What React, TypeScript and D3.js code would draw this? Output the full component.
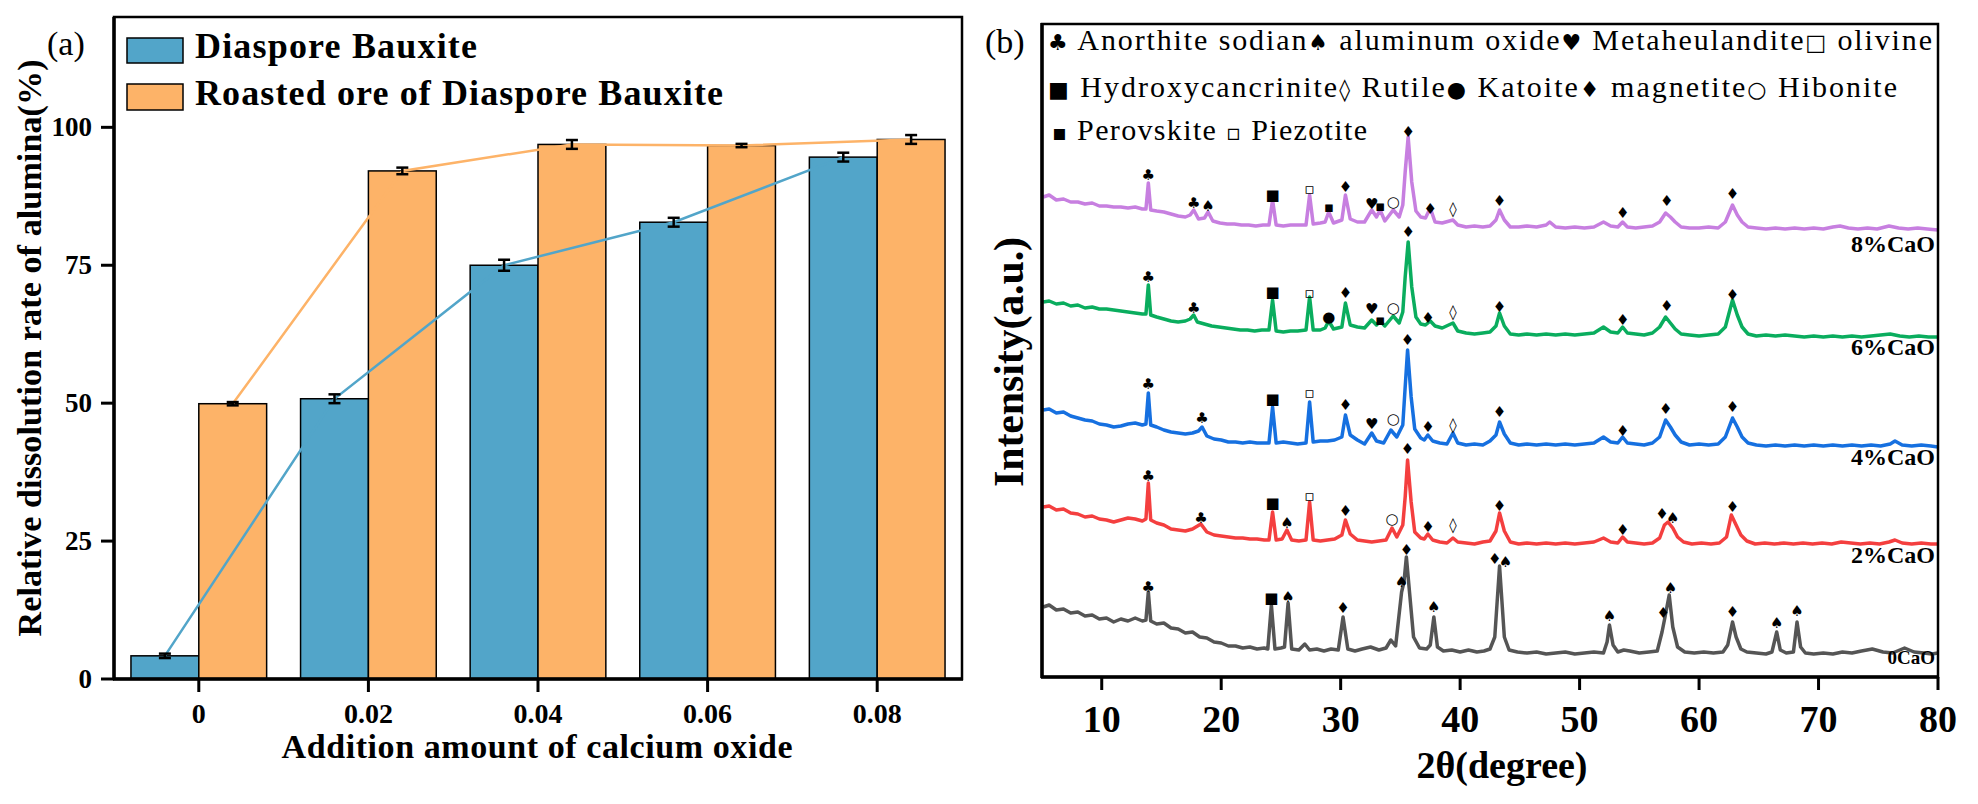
import React from "react";
import * as d3 from "d3";

// ---------- Panel (a) data ----------
const caoAmounts = [0, 0.02, 0.04, 0.06, 0.08];
const caoTickLabels = ["0", "0.02", "0.04", "0.06", "0.08"];
const diasporeValues = [4.2, 50.8, 75.0, 82.8, 94.6];
const diasporeErrors = [0.4, 0.8, 1.0, 0.8, 0.8];
const roastedValues = [49.9, 92.1, 96.9, 96.7, 97.8];
const roastedErrors = [0.3, 0.6, 0.8, 0.3, 0.8];
const yTicksA = [0, 25, 50, 75, 100];
const legendA = ["Diaspore Bauxite", "Roasted ore of Diaspore Bauxite"];

// ---------- Panel (b) data ----------
const xTicksB = [10, 20, 30, 40, 50, 60, 70, 80];
const sampleNames = ["0CaO", "2%CaO", "4%CaO", "6%CaO", "8%CaO"];
const sampleLabelLevels = [13, 114, 212, 322, 425];

const xrd0CaO: [number, number][] = [[5.1,70],[5.6,72],[6.2,67],[6.8,68],[7.4,64],[8,65],[8.6,61],[9.2,62],[9.8,58],[10.4,59],[11,55],[11.6,58],[12.2,56],[12.8,59],[13.4,56],[13.7,57],[13.9,85],[14.1,56],[14.6,53],[15.2,54],[15.8,49],[16.4,48],[17,44],[17.6,45],[18.2,40],[18.8,39],[19.4,35],[20,34],[20.6,31],[21.2,31],[21.8,29],[22.4,30],[23,28],[23.6,29],[23.9,28],[24.2,72],[24.5,28],[25,29],[25.3,30],[25.6,74],[25.9,28],[26.5,27],[27,33],[27.4,27],[28,28],[28.6,26],[29.2,28],[29.8,27],[30.2,60],[30.6,28],[31.2,26],[31.8,28],[32.5,30],[33.2,27],[33.8,29],[34.2,37],[34.6,31],[35.1,85],[35.3,95],[35.5,120],[35.8,80],[36.1,40],[36.6,29],[37.2,28],[37.5,32],[37.8,60],[38.1,30],[38.6,26],[39.3,27],[40,25],[40.7,27],[41.4,25],[42,26],[42.5,28],[42.9,40],[43.3,111],[43.7,40],[44.1,27],[44.8,25],[45.6,24],[46.4,25],[47.2,23],[48,24],[48.8,25],[49.6,23],[50.4,24],[51.2,25],[52,24],[52.3,35],[52.5,52],[52.8,32],[53.2,25],[53.7,27],[54.2,26],[55,24],[55.8,25],[56.5,26],[56.9,45],[57.1,57],[57.5,82],[57.8,50],[58.2,30],[58.8,25],[59.6,24],[60.4,25],[61.2,24],[62,25],[62.4,32],[62.8,55],[63.1,40],[63.5,28],[64,25],[64.8,24],[65.6,23],[66.1,25],[66.5,45],[66.8,27],[67.3,24],[67.9,25],[68.2,55],[68.5,30],[68.9,24],[69.6,23],[70.4,24],[71.2,23],[72,25],[72.8,24],[73.6,26],[74.5,28],[75.4,25],[76.2,24],[77.2,29],[78,25],[78.8,24],[79.5,23],[80,24]];

const xrd2CaO: [number, number][] = [[5.1,170],[5.6,171],[6.2,167],[6.8,168],[7.4,164],[8,163],[8.6,160],[9.2,161],[9.8,158],[10.4,157],[11,155],[11.6,157],[12.2,159],[12.8,158],[13.4,156],[13.7,158],[13.9,194],[14.1,157],[14.6,154],[15.2,152],[15.8,148],[16.4,147],[17,146],[17.6,148],[18.3,153],[18.8,145],[19.4,142],[20,141],[20.6,140],[21.2,139],[21.8,139],[22.4,138],[23,138],[23.6,137],[24,137],[24.3,165],[24.6,137],[25.1,138],[25.5,147],[25.9,137],[26.5,136],[27.1,137],[27.4,175],[27.7,137],[28.3,136],[28.9,137],[29.5,138],[30.1,142],[30.4,157],[30.8,143],[31.4,137],[32,136],[32.6,135],[33.2,136],[33.8,137],[34.3,149],[34.7,140],[35.2,152],[35.4,180],[35.6,217],[35.9,175],[36.2,145],[36.7,139],[37,138],[37.3,143],[37.7,137],[38.3,135],[38.9,134],[39.4,139],[39.8,135],[40.5,134],[41.2,133],[41.9,135],[42.5,136],[43,146],[43.3,164],[43.7,146],[44.2,135],[44.9,133],[45.6,134],[46.4,133],[47.2,134],[48,133],[48.8,134],[49.6,133],[50.4,134],[51.2,135],[52,139],[52.6,135],[53.2,134],[53.6,140],[54,135],[54.7,134],[55.4,133],[56.1,134],[56.7,139],[57.1,152],[57.4,155],[57.8,149],[58.2,140],[58.7,135],[59.4,133],[60.2,134],[61,133],[61.7,134],[62.3,140],[62.7,162],[63.1,152],[63.5,142],[64,136],[64.7,133],[65.5,134],[66.3,133],[67.1,134],[67.9,133],[68.7,134],[69.5,133],[70.3,134],[71.1,133],[71.9,135],[72.7,134],[73.5,133],[74.3,134],[75.1,133],[75.9,135],[76.4,137],[77,134],[77.8,133],[78.6,134],[79.4,133],[80,133]];

const xrd4CaO: [number, number][] = [[5.1,267],[5.6,268],[6.2,264],[6.8,265],[7.4,261],[8,259],[8.6,257],[9.2,256],[9.8,253],[10.4,252],[11,250],[11.6,251],[12.2,253],[12.8,254],[13.4,252],[13.7,253],[13.9,284],[14.1,252],[14.6,250],[15.2,247],[15.8,245],[16.4,244],[17,243],[17.6,244],[18.1,246],[18.4,250],[18.8,241],[19.4,238],[20,237],[20.6,235],[21.2,235],[21.8,234],[22.4,235],[23,234],[23.6,234],[24,234],[24.3,270],[24.6,234],[25.2,235],[25.8,234],[26.4,233],[27.1,234],[27.4,275],[27.7,235],[28.3,236],[28.9,236],[29.5,237],[30.1,240],[30.4,262],[30.8,242],[31.4,237],[32,233],[32.6,244],[33,236],[33.6,234],[34.2,247],[34.7,240],[35.2,252],[35.4,290],[35.6,327],[35.9,280],[36.2,248],[36.7,239],[37,237],[37.3,242],[37.7,236],[38.3,234],[38.9,233],[39.4,244],[39.8,234],[40.5,232],[41.2,233],[41.9,232],[42.5,236],[43,242],[43.3,255],[43.7,243],[44.2,234],[44.9,232],[45.6,233],[46.4,232],[47.2,233],[48,232],[48.8,233],[49.6,232],[50.4,233],[51.2,234],[52,240],[52.6,235],[53.2,234],[53.6,240],[54,234],[54.7,233],[55.4,232],[56.1,234],[56.7,240],[57.2,257],[57.6,250],[58,242],[58.5,235],[59.2,232],[60,233],[60.8,232],[61.6,233],[62.2,240],[62.8,259],[63.2,250],[63.6,240],[64.1,234],[64.8,232],[65.6,231],[66.4,232],[67.2,231],[68,232],[68.8,231],[69.6,232],[70.4,231],[71.2,232],[72,231],[72.8,232],[73.6,231],[74.4,232],[75.2,231],[76,233],[76.4,236],[77,232],[77.8,231],[78.6,232],[79.4,231],[80,230]];

const xrd6CaO: [number, number][] = [[5.1,375],[5.6,376],[6.2,373],[6.8,374],[7.4,371],[8,372],[8.6,369],[9.2,370],[9.8,368],[10.4,368],[11,367],[11.6,366],[12.2,365],[12.8,364],[13.4,363],[13.7,363],[13.9,392],[14.1,362],[14.6,360],[15.2,358],[15.8,356],[16.4,355],[17,356],[17.4,358],[17.7,362],[18,355],[18.6,353],[19.2,351],[19.8,350],[20.4,349],[21,348],[21.6,347],[22.2,347],[22.8,346],[23.4,347],[24,347],[24.3,377],[24.6,346],[25.2,345],[25.8,346],[26.4,346],[27.1,347],[27.4,380],[27.7,347],[28.3,347],[28.7,349],[29,356],[29.4,348],[30.1,350],[30.4,374],[30.8,352],[31.4,350],[32,349],[32.6,357],[33,352],[33.3,356],[33.7,351],[34.4,361],[34.9,354],[35.2,365],[35.4,400],[35.65,435],[35.95,390],[36.3,360],[36.7,353],[37.1,352],[37.5,356],[37.9,351],[38.5,349],[39.4,354],[39.8,346],[40.5,344],[41.2,343],[41.9,344],[42.5,345],[43,351],[43.3,364],[43.7,351],[44.2,343],[44.9,342],[45.6,343],[46.4,342],[47.2,343],[48,342],[48.8,343],[49.6,342],[50.4,343],[51.2,344],[52,350],[52.6,345],[53.2,344],[53.6,350],[54,344],[54.7,343],[55.4,342],[56.1,344],[56.7,350],[57.2,360],[57.6,354],[58,348],[58.5,343],[59.2,342],[60,341],[60.8,342],[61.6,343],[62.2,350],[62.8,377],[63.2,362],[63.6,350],[64.1,343],[64.8,341],[65.6,342],[66.4,341],[67.2,342],[68,341],[68.8,340],[69.6,341],[70.4,340],[71.2,341],[72,340],[72.8,341],[73.6,340],[74.4,341],[75.2,342],[76,343],[76.8,341],[77.6,340],[78.4,341],[79.2,340],[80,340]];

const xrd8CaO: [number, number][] = [[5.1,480],[5.6,482],[6.2,477],[6.8,478],[7.4,475],[8,475],[8.6,473],[9.2,474],[9.8,471],[10.4,471],[11,470],[11.6,470],[12.2,469],[12.8,470],[13.4,468],[13.7,468],[13.9,494],[14.1,467],[14.6,466],[15.2,465],[15.8,463],[16.4,461],[17,460],[17.4,462],[17.7,467],[18.1,458],[18.6,459],[18.9,465],[19.3,456],[19.9,454],[20.5,453],[21.1,453],[21.7,452],[22.3,452],[22.9,451],[23.5,452],[24,452],[24.3,477],[24.6,452],[25.2,451],[25.8,452],[26.4,452],[27.1,452],[27.4,482],[27.7,453],[28.3,454],[28.7,455],[29,465],[29.4,454],[30.1,457],[30.4,482],[30.8,458],[31.4,455],[32,455],[32.6,467],[33,460],[33.3,467],[33.7,456],[34.4,467],[34.9,460],[35.2,472],[35.4,505],[35.65,540],[35.95,495],[36.3,466],[36.7,460],[37.1,459],[37.5,469],[37.9,455],[38.5,454],[39.4,457],[39.8,452],[40.5,450],[41.2,451],[41.9,450],[42.5,451],[43,457],[43.3,467],[43.7,457],[44.2,450],[44.9,450],[45.6,451],[46.4,450],[47.2,452],[47.5,455],[48,450],[48.8,449],[49.6,450],[50.4,449],[51.2,450],[52,455],[52.6,451],[53.2,450],[53.6,455],[54,450],[54.7,449],[55.4,450],[56.1,451],[56.7,455],[57.2,464],[57.6,460],[58,455],[58.5,450],[59.2,449],[60,449],[60.8,450],[61.6,449],[62.2,455],[62.8,472],[63.2,462],[63.6,455],[64.1,450],[64.8,449],[65.6,448],[66.4,449],[67.2,448],[68,449],[68.8,448],[69.6,449],[70.4,448],[71.2,450],[71.8,451],[72.5,449],[73.3,448],[74.1,449],[74.9,448],[75.9,451],[76.7,449],[77.5,448],[78.3,449],[79.1,448],[80,447]];

// phase markers: [2theta, level, symbol]
const marks0CaO: [number, number, string][] = [[13.9,90,"♣"],[24.2,79,"■"],[25.6,80,"♠"],[30.2,69,"♦"],[35.1,95,"♠"],[35.5,127,"♦"],[37.8,70,"♠"],[42.9,118,"♦"],[43.8,115,"♠"],[52.5,61,"♠"],[57.0,64,"♦"],[57.6,89,"♠"],[62.8,65,"♦"],[66.5,54,"♠"],[68.2,66,"♠"]];
const marks2CaO: [number, number, string][] = [[13.9,201,"♣"],[18.3,159,"♣"],[24.3,174,"■"],[25.5,154,"♠"],[27.4,181,"▫"],[30.4,166,"♦"],[34.3,158,"○"],[35.6,228,"♦"],[37.3,150,"♦"],[39.4,152,"◊"],[43.3,171,"♦"],[53.6,147,"♦"],[56.9,163,"♦"],[57.8,159,"♠"],[62.8,170,"♦"]];
const marks4CaO: [number, number, string][] = [[13.9,293,"♣"],[18.4,259,"♣"],[24.3,278,"■"],[27.4,284,"▫"],[30.4,272,"♦"],[32.6,253,"♥"],[34.4,258,"○"],[35.6,337,"♦"],[37.3,250,"♦"],[39.4,252,"◊"],[43.3,265,"♦"],[53.6,246,"♦"],[57.2,268,"♦"],[62.8,270,"♦"]];
const marks6CaO: [number, number, string][] = [[13.9,400,"♣"],[17.7,369,"♣"],[24.3,385,"■"],[27.4,384,"▫"],[29.0,360,"●"],[30.4,384,"♦"],[32.6,368,"♥"],[33.3,357,"▪"],[34.4,369,"○"],[35.65,445,"♦"],[37.3,359,"♦"],[39.4,365,"◊"],[43.3,370,"♦"],[53.6,357,"♦"],[57.3,371,"♦"],[62.8,382,"♦"]];
const marks8CaO: [number, number, string][] = [[13.9,502,"♣"],[17.7,474,"♣"],[18.9,471,"♠"],[24.3,482,"■"],[27.4,488,"▫"],[29.0,470,"▪"],[30.4,490,"♦"],[32.6,473,"♥"],[33.3,471,"▪"],[34.4,475,"○"],[35.65,545,"♦"],[37.5,468,"♦"],[39.4,468,"◊"],[43.3,476,"♦"],[53.6,464,"♦"],[57.3,476,"♦"],[62.8,483,"♦"]];

// legend of panel (b): [symbol, phase name]
const legendBLine1: [string, string][] = [["♣", "Anorthite sodian"], ["♠", "aluminum oxide"], ["♥", "Metaheulandite"], ["□", "olivine"]];
const legendBLine2: [string, string][] = [["■", "Hydroxycancrinite"], ["◊", "Rutile"], ["●", "Katoite"], ["♦", "magnetite"], ["○", "Hibonite"]];
const legendBLine3: [string, string][] = [["▪", "Perovskite "], ["▫", "Piezotite"]];

const SERIF = "Liberation Serif, Times New Roman, Times, serif";
const SYM = "DejaVu Sans, sans-serif";
const BLUE = "#52a5c9";
const ORANGE = "#fdb368";
const traceColors = ["#555555", "#f43f3f", "#1670e0", "#0aad5e", "#c77fe0"];

export default function App() {
  // ---------- panel (a) scales ----------
  const xA = d3.scaleLinear().domain([-0.01, 0.09]).range([114, 962]);
  const yA = d3.scaleLinear().domain([0, 120]).range([679, 17]);
  const bw = 0.008;
  const lineA = d3
    .line<[number, number]>()
    .x((d) => xA(d[0]))
    .y((d) => yA(d[1]));
  const bluePts: [number, number][] = caoAmounts.map((c, i) => [c - bw / 2, diasporeValues[i]]);
  const orangePts: [number, number][] = caoAmounts.map((c, i) => [c + bw / 2, roastedValues[i]]);

  // ---------- panel (b) scales ----------
  const xB = d3.scaleLinear().domain([5, 80]).range([1042, 1938]);
  const yB = d3.scaleLinear().domain([0, 653]).range([677, 24]);
  const lineB = d3
    .line<[number, number]>()
    .x((d) => xB(d[0]))
    .y((d) => yB(d[1]));
  const traces = [xrd0CaO, xrd2CaO, xrd4CaO, xrd6CaO, xrd8CaO];
  const marks = [marks0CaO, marks2CaO, marks4CaO, marks6CaO, marks8CaO];
  const legendB = [legendBLine1, legendBLine2, legendBLine3];
  const legendBLayout = [
    { x: 1048, y: 50, len: 884 },
    { x: 1048, y: 97, len: 849 },
    { x: 1052, y: 140, len: 315 },
  ];

  const errBar = (cx: number, v: number, e: number, key: string) => (
    <g key={key} stroke="#000" strokeWidth={2.5}>
      <line x1={xA(cx)} x2={xA(cx)} y1={yA(v - e)} y2={yA(v + e)} />
      <line x1={xA(cx) - 6} x2={xA(cx) + 6} y1={yA(v - e)} y2={yA(v - e)} />
      <line x1={xA(cx) - 6} x2={xA(cx) + 6} y1={yA(v + e)} y2={yA(v + e)} />
    </g>
  );

  const serif = { fontFamily: SERIF };

  return (
    <svg
      width={1978}
      height={804}
      style={{ position: "absolute", left: 0, top: 0, background: "#fff", fontFamily: SERIF }}
    >
      <rect x={0} y={0} width={1978} height={804} fill="#fff" />
      {/* ================= Panel (a) ================= */}
      {caoAmounts.map((c, i) => (
        <g key={"bar" + i} stroke="#000" strokeWidth={1.5}>
          <rect
            x={xA(c - bw)}
            width={xA(c) - xA(c - bw)}
            y={yA(diasporeValues[i])}
            height={yA(0) - yA(diasporeValues[i])}
            fill={BLUE}
          />
          <rect
            x={xA(c)}
            width={xA(c + bw) - xA(c)}
            y={yA(roastedValues[i])}
            height={yA(0) - yA(roastedValues[i])}
            fill={ORANGE}
          />
        </g>
      ))}
      <path d={lineA(bluePts) || ""} fill="none" stroke={BLUE} strokeWidth={2.5} />
      <path d={lineA(orangePts) || ""} fill="none" stroke={ORANGE} strokeWidth={2.5} />
      {caoAmounts.map((c, i) => errBar(c - bw / 2, diasporeValues[i], diasporeErrors[i], "eb" + i))}
      {caoAmounts.map((c, i) => errBar(c + bw / 2, roastedValues[i], roastedErrors[i], "eo" + i))}
      <rect x={114} y={17} width={848} height={662} fill="none" stroke="#000" strokeWidth={2.5} />
      <line x1={114} x2={114} y1={17} y2={680} stroke="#000" strokeWidth={3.5} />
      <line x1={113} x2={963} y1={679} y2={679} stroke="#000" strokeWidth={3.5} />
      {yTicksA.map((t) => (
        <g key={"ya" + t}>
          <line x1={101} x2={114} y1={yA(t)} y2={yA(t)} stroke="#000" strokeWidth={3} />
          <text x={92} y={yA(t) + 9} textAnchor="end" fontSize={27} fontWeight="bold" style={serif}>
            {t}
          </text>
        </g>
      ))}
      {caoAmounts.map((c, i) => (
        <g key={"xa" + i}>
          <line x1={xA(c)} x2={xA(c)} y1={679} y2={692} stroke="#000" strokeWidth={3} />
          <text x={xA(c)} y={723} textAnchor="middle" fontSize={28} fontWeight="bold" style={serif}>
            {caoTickLabels[i]}
          </text>
        </g>
      ))}
      <text x={537} y={758} textAnchor="middle" fontSize={34} fontWeight="bold" textLength={511} style={serif}>
        Addition amount of calcium oxide
      </text>
      <text
        transform="translate(41,348) rotate(-90)"
        textAnchor="middle"
        fontSize={34}
        fontWeight="bold"
        textLength={577}
        style={serif}
      >
        Relative dissolution rate of alumina(%)
      </text>
      <text x={47} y={55} fontSize={34} style={serif}>
        (a)
      </text>
      {/* legend a */}
      <rect x={127} y={38} width={56} height={25} fill={BLUE} stroke="#000" strokeWidth={1.5} />
      <rect x={127} y={84} width={56} height={26} fill={ORANGE} stroke="#000" strokeWidth={1.5} />
      <text x={195} y={58} fontSize={36} fontWeight="bold" textLength={282} style={serif}>
        {legendA[0]}
      </text>
      <text x={195} y={105} fontSize={36} fontWeight="bold" textLength={528} style={serif}>
        {legendA[1]}
      </text>

      {/* ================= Panel (b) ================= */}
      <defs>
        <clipPath id="clipB">
          <rect x={1042} y={24} width={896} height={653} />
        </clipPath>
      </defs>
      <g clipPath="url(#clipB)">
        {traces.map((t, i) => (
          <path
            key={"tr" + i}
            d={lineB(t) || ""}
            fill="none"
            stroke={traceColors[i]}
            strokeWidth={3.5}
            strokeLinejoin="round"
          />
        ))}
      </g>
      {marks.map((ms, i) =>
        ms.map((m, j) => (
          <text
            key={"m" + i + "_" + j}
            x={xB(m[0])}
            y={yB(m[1])}
            textAnchor="middle"
            dominantBaseline="central"
            fontSize={15}
            style={{ fontFamily: SYM }}
            fill="#000"
          >
            {m[2]}
          </text>
        ))
      )}
      {sampleNames.map((n, i) => (
        <text
          key={"sn" + i}
          x={1935}
          y={yB(sampleLabelLevels[i])}
          textAnchor="end"
          fontSize={i === 0 ? 19 : 24}
          fontWeight="bold"
          style={serif}
        >
          {n}
        </text>
      ))}
      <rect x={1042} y={24} width={896} height={653} fill="none" stroke="#000" strokeWidth={2.5} />
      <line x1={1042} x2={1042} y1={23} y2={678} stroke="#000" strokeWidth={3.5} />
      <line x1={1041} x2={1939} y1={677} y2={677} stroke="#000" strokeWidth={3.5} />
      {xTicksB.map((t) => (
        <g key={"xb" + t}>
          <line x1={xB(t)} x2={xB(t)} y1={677} y2={690} stroke="#000" strokeWidth={3} />
          <text x={xB(t)} y={732} textAnchor="middle" fontSize={38} fontWeight="bold" style={serif}>
            {t}
          </text>
        </g>
      ))}
      <text x={1502} y={778} textAnchor="middle" fontSize={38} fontWeight="bold" style={serif}>
        2θ(degree)
      </text>
      <text
        transform="translate(1023,362) rotate(-90)"
        textAnchor="middle"
        fontSize={42}
        fontWeight="bold"
        textLength={250}
        style={serif}
      >
        Intensity(a.u.)
      </text>
      <text x={985} y={53} fontSize={34} style={serif}>
        (b)
      </text>
      {legendB.map((items, i) => (
        <text
          key={"lb" + i}
          x={legendBLayout[i].x}
          y={legendBLayout[i].y}
          fontSize={30}
          textLength={legendBLayout[i].len}
          style={serif}
        >
          {items.map((it, j) => (
            <React.Fragment key={j}>
              <tspan style={{ fontFamily: SYM }} fontSize={22}>
                {it[0]}
              </tspan>
              <tspan style={serif}>{" " + it[1]}</tspan>
            </React.Fragment>
          ))}
        </text>
      ))}
    </svg>
  );
}
